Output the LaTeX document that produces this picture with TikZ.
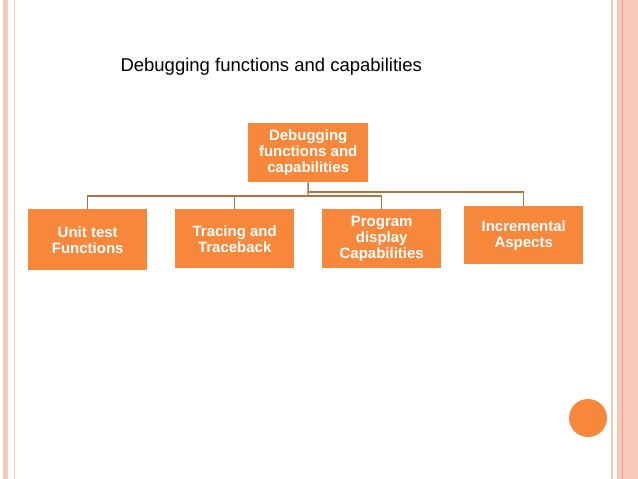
\documentclass[tikz,border=0pt]{standalone}
\usepackage{fontspec}
\setmainfont{Liberation Sans}
\definecolor{org}{HTML}{F7873A}
\definecolor{brn}{HTML}{B5703F}
\definecolor{pnk}{HTML}{F6C9B8}
\definecolor{pnkd}{HTML}{E89C85}
\begin{document}
\begin{tikzpicture}[x=1pt,y=-1pt,
  box/.style={fill=org,text=white,font=\fontsize{15}{16}\selectfont\bfseries,align=center,inner sep=0pt,anchor=north west},
  con/.style={draw=brn,line width=1.4pt}]
\useasboundingbox (0,0) rectangle (638,479);
% borders
\fill[pnk] (3,0) rectangle (8,479);
\draw[pnk,line width=1pt] (14,0) -- (14,479);
\draw[pnk,line width=1.5pt] (612,0) -- (612,479);
\fill[pnk] (617,0) rectangle (638,479);
\draw[pnkd,line width=0.6pt] (622,0) -- (622,479);
\fill[org] (588,418) circle (19);
\node[font=\fontsize{18.5}{20}\selectfont,anchor=west] (title) at (117,67) {Debugging functions and capabilities};
\node[box,minimum width=120,minimum height=59] (root) at (248,123) {Debugging\\functions and\\capabilities};
\node[box,minimum width=119,minimum height=61] (a) at (28,209) {Unit test\\Functions};
\node[box,minimum width=119,minimum height=59] (b) at (175,209) {Tracing and\\Traceback};
\node[box,minimum width=119,minimum height=59] (c) at (322,209) {Program\\display\\Capabilities};
\node[box,minimum width=119,minimum height=58] (d) at (464,206) {Incremental\\Aspects};
\coordinate (j) at (308,196);
\draw[con] (root.south) -- (j);
\draw[con] (j) -| (a.north);
\draw[con] (j) -| (b.north);
\draw[con] (j) -| (c.north);
\draw[con] (308,192) -| (d.north);
\end{tikzpicture}
\end{document}
